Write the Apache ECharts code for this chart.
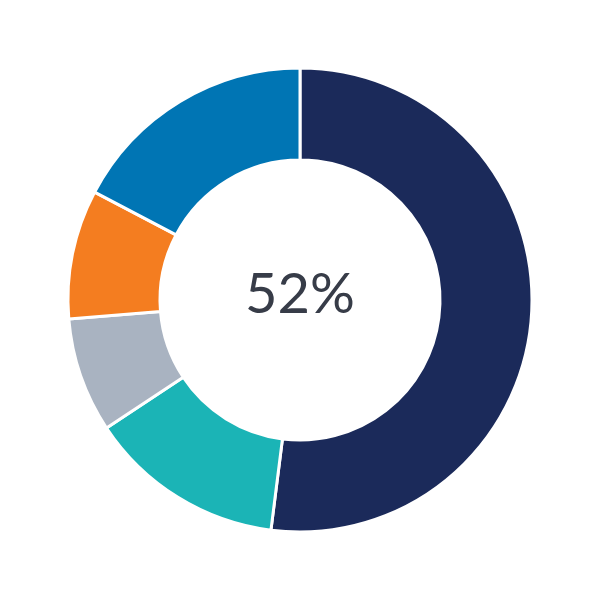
<!DOCTYPE html>
<html><head><meta charset="utf-8">
<script src="https://cdn.jsdelivr.net/npm/echarts@6/dist/echarts.min.js"></script>
<style>html,body{margin:0;padding:0;background:#fff}#c{width:600px;height:600px}</style>
</head><body><div id="c"></div>
<script>
const categories = ['A', 'B', 'C', 'D', 'E'];
const values = [52, 13.7, 8, 9, 17.3];
const colors = ['#1b2a5a', '#1bb4b6', '#a9b3c1', '#f47d20', '#0075b4'];
const centerLabel = '52%';

const chart = echarts.init(document.getElementById('c'));
chart.setOption({
  animation: false,
  graphic: [{
    type: 'text',
    style: { text: centerLabel, font: '400 56px Lato', fill: '#373c48', textAlign: 'center', textVerticalAlign: 'middle' },
    x: 300, y: 295
  }],
  series: [{
    type: 'pie',
    center: [300, 300],
    radius: [140, 232],
    startAngle: 90,
    clockwise: true,
    label: { show: false },
    labelLine: { show: false },
    itemStyle: { borderColor: '#fff', borderWidth: 3 },
    data: categories.map((c, i) => ({ name: c, value: values[i], itemStyle: { color: colors[i] } }))
  }]
});
</script></body></html>
